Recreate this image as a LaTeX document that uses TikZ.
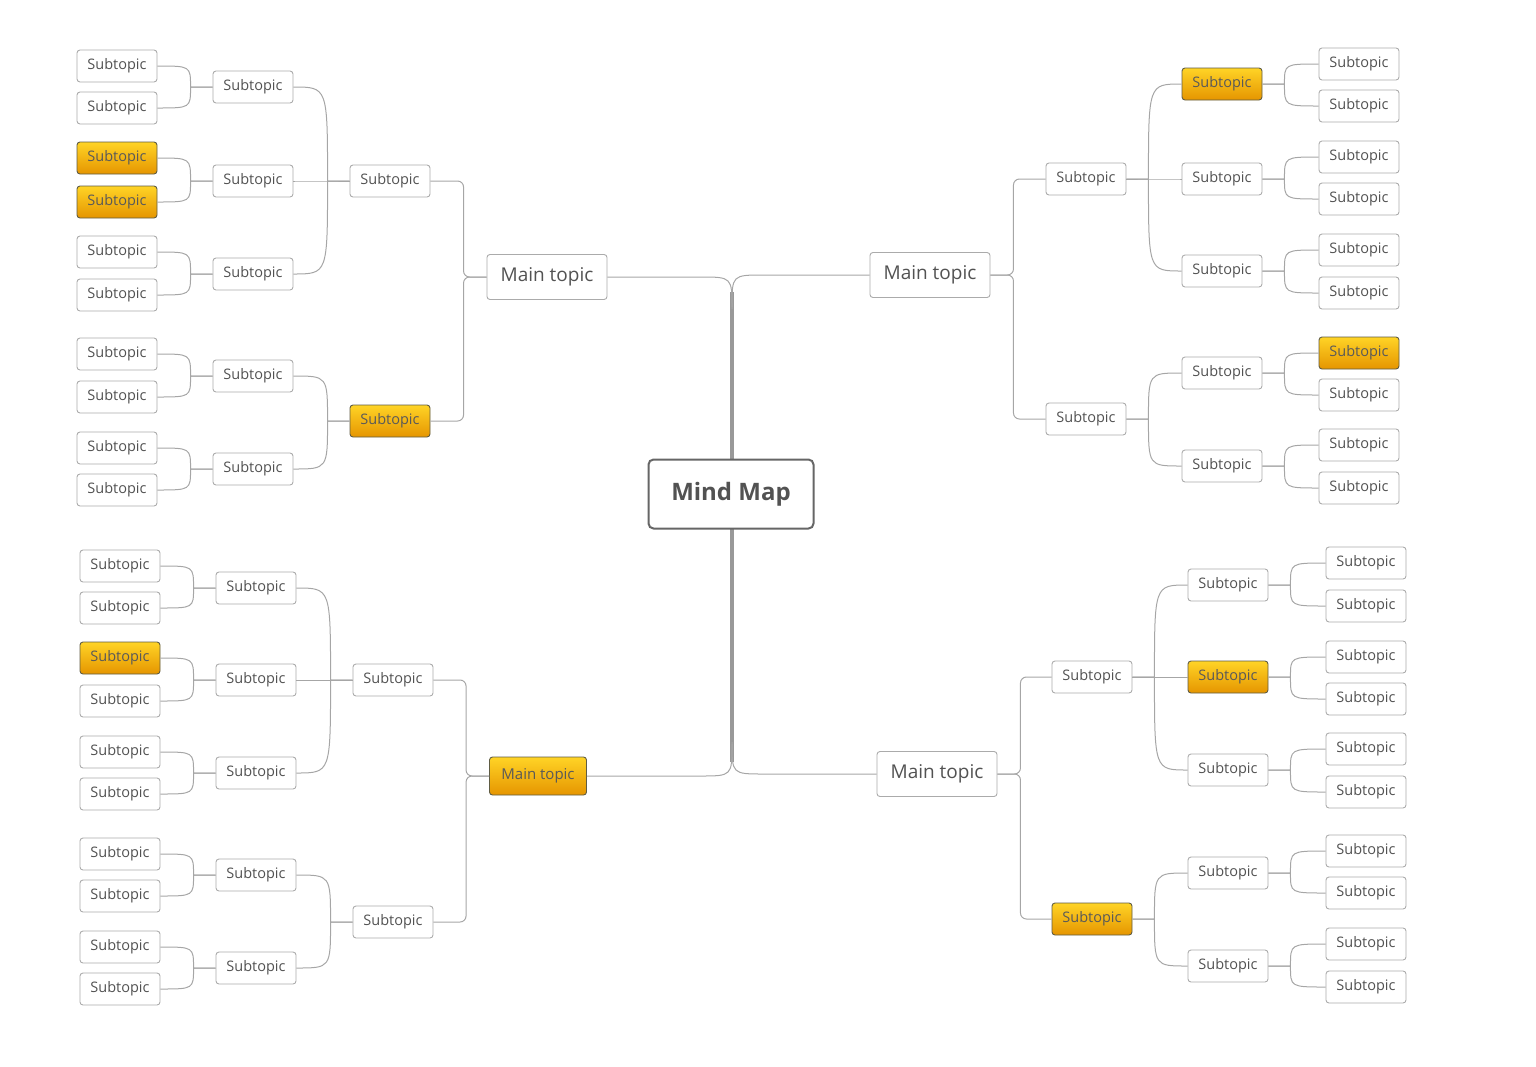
\documentclass[tikz,border=0pt]{standalone}
\usepackage{fontspec}
\setmainfont{Open Sans}
\tikzset{
 box/.style={draw=black!33,line width=0.9pt,rounded corners=3pt,fill=white,text=black!68,inner sep=0pt},
 sub/.style={box,minimum width=80pt,minimum height=32pt,font=\fontsize{14.5}{16}\selectfont},
 subY/.style={sub,draw=black!60!yellow!70!black,top color=yellow!60!orange!85!white,bottom color=orange!70!yellow!90!black,text=black!65},
 main/.style={box,minimum width=120pt,minimum height=45pt,font=\fontsize{19}{22}\selectfont},
 mainY/.style={subY,minimum width=97pt,minimum height=38pt,font=\fontsize{15}{18}\selectfont},
 root/.style={box,draw=black!60,line width=2pt,rounded corners=5pt,minimum width=165pt,minimum height=69pt,font=\fontsize{24}{28}\bfseries\selectfont},
 conn/.style={draw=black!35,line width=1pt},
 trunk/.style={draw=black!40,line width=4pt}
}
\newcommand\conL[2]{\draw[conn] (#1.west) -- ++(-22,0) coordinate(tmp) .. controls (tmp |- #2.east) .. (#2.east);}
\newcommand\conR[2]{\draw[conn] (#1.east) -- ++(22,0) coordinate(tmp) .. controls (tmp |- #2.west) .. (#2.west);}
\newcommand\brL[2]{\draw[conn,rounded corners=6pt] (#1.west) -- ++(-23,0) |- (#2.east);}
\newcommand\brR[2]{\draw[conn,rounded corners=6pt] (#1.east) -- ++(23,0) |- (#2.west);}
\begin{document}
\begin{tikzpicture}[x=1pt,y=-1pt]
\useasboundingbox (0,0) rectangle (1536,1066);
% trunk
\draw[trunk] (732,292) -- (732,762);
\node[root] (R) at (731,494) {Mind Map};
\node[main] (A) at (547,277) {Main topic};
\node[main] (B) at (930,275) {Main topic};
\node[mainY] (C) at (538,776) {Main topic};
\node[main] (D) at (937,774) {Main topic};
\draw[conn] (A.east) -- (700,277) .. controls (732,277) .. (732,309);
\draw[conn] (B.west) -- (764,275) .. controls (732,275) .. (732,307);
\draw[conn] (C.east) -- (700,776) .. controls (732,776) .. (732,744);
\draw[conn] (D.west) -- (764,774) .. controls (732,774) .. (732,742);
% ---- top-left
\node[sub] (A1) at (390,181) {Subtopic};
\node[subY] (A2) at (390,421) {Subtopic};
\brL{A}{A1}\brL{A}{A2}
\node[sub] (A11) at (253,87) {Subtopic};
\node[sub] (A12) at (253,181) {Subtopic};
\node[sub] (A13) at (253,274) {Subtopic};
\node[sub] (A21) at (253,376) {Subtopic};
\node[sub] (A22) at (253,469) {Subtopic};
\conL{A1}{A11}\conL{A1}{A12}\conL{A1}{A13}\conL{A2}{A21}\conL{A2}{A22}
\node[sub] (A11a) at (117,66) {Subtopic};
\node[sub] (A11b) at (117,108) {Subtopic};
\node[subY] (A12a) at (117,158) {Subtopic};
\node[subY] (A12b) at (117,202) {Subtopic};
\node[sub] (A13a) at (117,252) {Subtopic};
\node[sub] (A13b) at (117,295) {Subtopic};
\node[sub] (A21a) at (117,354) {Subtopic};
\node[sub] (A21b) at (117,397) {Subtopic};
\node[sub] (A22a) at (117,448) {Subtopic};
\node[sub] (A22b) at (117,490) {Subtopic};
\conL{A11}{A11a}\conL{A11}{A11b}\conL{A12}{A12a}\conL{A12}{A12b}\conL{A13}{A13a}\conL{A13}{A13b}
\conL{A21}{A21a}\conL{A21}{A21b}\conL{A22}{A22a}\conL{A22}{A22b}
% ---- bottom-left
\node[sub] (C1) at (393,680) {Subtopic};
\node[sub] (C2) at (393,922) {Subtopic};
\brL{C}{C1}\brL{C}{C2}
\node[sub] (C11) at (256,588) {Subtopic};
\node[sub] (C12) at (256,680) {Subtopic};
\node[sub] (C13) at (256,773) {Subtopic};
\node[sub] (C21) at (256,875) {Subtopic};
\node[sub] (C22) at (256,968) {Subtopic};
\conL{C1}{C11}\conL{C1}{C12}\conL{C1}{C13}\conL{C2}{C21}\conL{C2}{C22}
\node[sub] (C11a) at (120,566) {Subtopic};
\node[sub] (C11b) at (120,608) {Subtopic};
\node[subY] (C12a) at (120,658) {Subtopic};
\node[sub] (C12b) at (120,701) {Subtopic};
\node[sub] (C13a) at (120,752) {Subtopic};
\node[sub] (C13b) at (120,794) {Subtopic};
\node[sub] (C21a) at (120,854) {Subtopic};
\node[sub] (C21b) at (120,896) {Subtopic};
\node[sub] (C22a) at (120,947) {Subtopic};
\node[sub] (C22b) at (120,989) {Subtopic};
\conL{C11}{C11a}\conL{C11}{C11b}\conL{C12}{C12a}\conL{C12}{C12b}\conL{C13}{C13a}\conL{C13}{C13b}
\conL{C21}{C21a}\conL{C21}{C21b}\conL{C22}{C22a}\conL{C22}{C22b}
% ---- top-right
\node[sub] (B1) at (1086,179) {Subtopic};
\node[sub] (B2) at (1086,419) {Subtopic};
\brR{B}{B1}\brR{B}{B2}
\node[subY] (B11) at (1222,84) {Subtopic};
\node[sub] (B12) at (1222,179) {Subtopic};
\node[sub] (B13) at (1222,271) {Subtopic};
\node[sub] (B21) at (1222,373) {Subtopic};
\node[sub] (B22) at (1222,466) {Subtopic};
\conR{B1}{B11}\conR{B1}{B12}\conR{B1}{B13}\conR{B2}{B21}\conR{B2}{B22}
\node[sub] (B11a) at (1359,64) {Subtopic};
\node[sub] (B11b) at (1359,106) {Subtopic};
\node[sub] (B12a) at (1359,157) {Subtopic};
\node[sub] (B12b) at (1359,199) {Subtopic};
\node[sub] (B13a) at (1359,250) {Subtopic};
\node[sub] (B13b) at (1359,293) {Subtopic};
\node[subY] (B21a) at (1359,353) {Subtopic};
\node[sub] (B21b) at (1359,395) {Subtopic};
\node[sub] (B22a) at (1359,445) {Subtopic};
\node[sub] (B22b) at (1359,488) {Subtopic};
\conR{B11}{B11a}\conR{B11}{B11b}\conR{B12}{B12a}\conR{B12}{B12b}\conR{B13}{B13a}\conR{B13}{B13b}
\conR{B21}{B21a}\conR{B21}{B21b}\conR{B22}{B22a}\conR{B22}{B22b}
% ---- bottom-right
\node[sub] (D1) at (1092,677) {Subtopic};
\node[subY] (D2) at (1092,919) {Subtopic};
\brR{D}{D1}\brR{D}{D2}
\node[sub] (D11) at (1228,585) {Subtopic};
\node[subY] (D12) at (1228,677) {Subtopic};
\node[sub] (D13) at (1228,770) {Subtopic};
\node[sub] (D21) at (1228,873) {Subtopic};
\node[sub] (D22) at (1228,966) {Subtopic};
\conR{D1}{D11}\conR{D1}{D12}\conR{D1}{D13}\conR{D2}{D21}\conR{D2}{D22}
\node[sub] (D11a) at (1366,563) {Subtopic};
\node[sub] (D11b) at (1366,606) {Subtopic};
\node[sub] (D12a) at (1366,657) {Subtopic};
\node[sub] (D12b) at (1366,699) {Subtopic};
\node[sub] (D13a) at (1366,749) {Subtopic};
\node[sub] (D13b) at (1366,792) {Subtopic};
\node[sub] (D21a) at (1366,851) {Subtopic};
\node[sub] (D21b) at (1366,893) {Subtopic};
\node[sub] (D22a) at (1366,944) {Subtopic};
\node[sub] (D22b) at (1366,987) {Subtopic};
\conR{D11}{D11a}\conR{D11}{D11b}\conR{D12}{D12a}\conR{D12}{D12b}\conR{D13}{D13a}\conR{D13}{D13b}
\conR{D21}{D21a}\conR{D21}{D21b}\conR{D22}{D22a}\conR{D22}{D22b}
\end{tikzpicture}
\end{document}
